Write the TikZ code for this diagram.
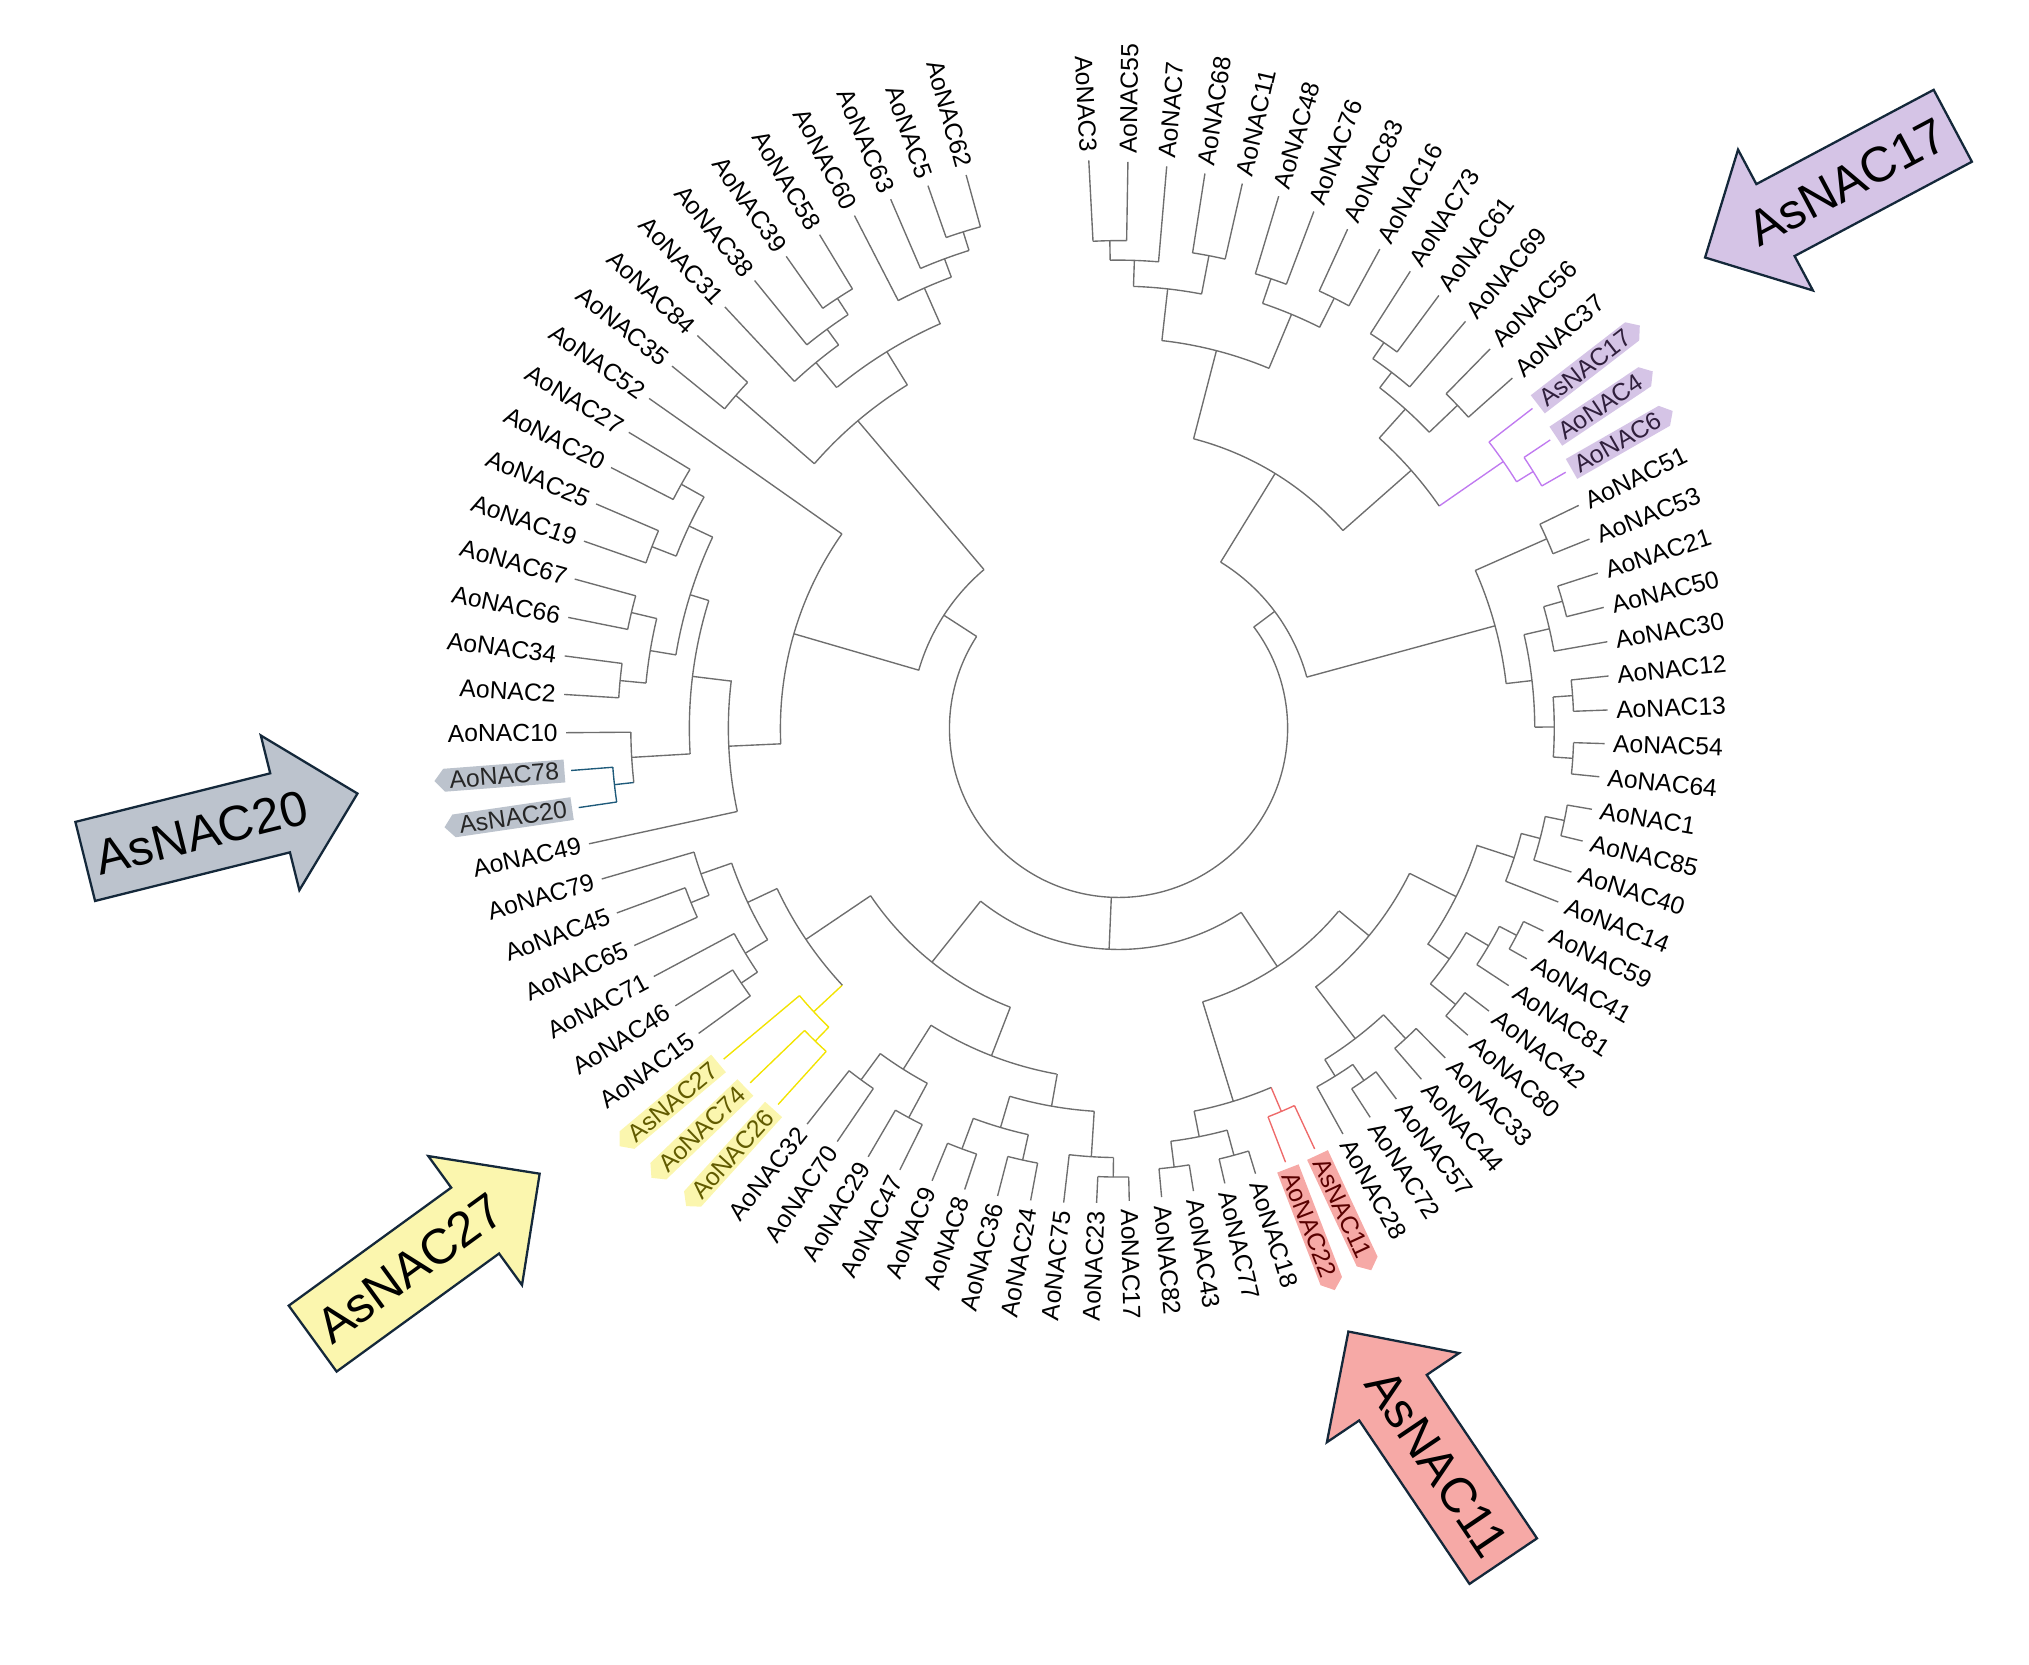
\documentclass[tikz,border=0pt]{standalone}
\usepackage{fontspec}
\setmainfont{Liberation Sans}
\usetikzlibrary{shapes.symbols,shapes.arrows}
\definecolor{tr}{HTML}{6E6E6E}
\definecolor{pP}{HTML}{C07AF0}\definecolor{pF}{HTML}{D5C4E6}
\definecolor{bP}{HTML}{1E5A7A}\definecolor{bF}{HTML}{BCC3CD}
\definecolor{yP}{HTML}{F2E300}\definecolor{yF}{HTML}{FBF6AE}
\definecolor{rP}{HTML}{EE6A6A}\definecolor{rF}{HTML}{F6A9A6}
\definecolor{ed}{HTML}{14283A}
\tikzset{
 declare function={th(\i)=93-(\i-1)*3.95; rt(\t)=400-25*cos(\t)+36*sin(\t);},
 tree/.style={draw=tr,line width=1.5pt},
 lab/.style={font=\fontsize{27}{30}\selectfont,inner sep=2pt},
 hl/.style={shape=signal,signal pointer angle=100,inner sep=3pt,inner xsep=6pt},
 hlP/.style={hl,fill=pF,text=black!75!pP},
 hlB/.style={hl,fill=bF,text=black!85},
 hlY/.style={hl,fill=yF,text=black!60!yP},
 hlR/.style={hl,fill=rF,text=black!65!red},
 big/.style={single arrow,draw=ed,line width=2.5pt,font=\fontsize{54}{60}\selectfont,
   inner ysep=0.85cm,inner xsep=0.4cm,single arrow head extend=1.5cm,single arrow tip angle=90},
}
\newcommand\cl[5][tree]{%
 \pgfmathsetmacro\cTa{th(#2)}\pgfmathsetmacro\cTb{th(#3)}\pgfmathsetmacro\cTm{th((#2+#3)/2)}%
 \draw[#1] (\cTa:#4) arc[start angle=\cTa,end angle=\cTb,radius=#4*0.05cm];%
 \draw[#1] (\cTm:#4) -- (\cTm:#5);}
\newcommand\lf[5][tree]{%
 \pgfmathsetmacro\lT{th(#2)}\pgfmathsetmacro\lR{max(rt(\lT),#3+14)}\pgfmathsetmacro\lL{\lR+5}%
 \draw[#1] (\lT:#3) -- (\lT:\lR);%
 \pgfmathparse{cos(\lT)>=0?1:0}%
 \ifnum\pgfmathresult=1
  \node[lab,#5,anchor=west,rotate=\lT,signal to=east] (L#2) at (\lT:\lL) {#4};%
 \else
  \pgfmathsetmacro\lQ{\lT-180}%
  \node[lab,#5,anchor=east,rotate=\lQ,signal to=west] (L#2) at (\lT:\lL) {#4};%
 \fi}
\begin{document}
\begin{tikzpicture}[x=0.05cm,y=0.05cm]
\useasboundingbox (-860,-720) rectangle (700,560);
% ---- clade A
\lf{1}{375}{AoNAC3}{}\lf{2}{375}{AoNAC55}{}\cl{1}{2}{375}{360}
\lf{3}{360}{AoNAC7}{}\cl{1.5}{3}{360}{340}
\lf{4}{370}{AoNAC68}{}\lf{5}{370}{AoNAC11}{}\cl{4}{5}{370}{340}
\cl{2.25}{4.5}{340}{300}
\lf{6}{365}{AoNAC48}{}\lf{7}{365}{AoNAC76}{}\cl{6}{7}{365}{345}
\lf{8}{370}{AoNAC83}{}\lf{9}{370}{AoNAC16}{}\cl{8}{9}{370}{345}
\cl{6.5}{8.5}{345}{300}
\cl{3.375}{7.5}{300}{230}
\lf{10}{360}{AoNAC73}{}\lf{11}{360}{AoNAC61}{}\cl{10}{11}{360}{345}
\lf{12}{345}{AoNAC69}{}\cl{10.5}{12}{345}{330}
\lf{13}{360}{AoNAC56}{}\lf{14}{360}{AoNAC37}{}\cl{13}{14}{360}{330}
\cl{11.25}{13.5}{330}{300}
\lf[tree,draw=pP]{15}{360}{AsNAC17}{hlP}
\lf[tree,draw=pP]{16}{375}{AoNAC4}{hlP}\lf[tree,draw=pP]{17}{375}{AoNAC6}{hlP}
\cl[tree,draw=pP]{16}{17}{375}{360}
\cl[tree,draw=pP]{15}{16.5}{360}{300}
\cl{12.375}{15.75}{300}{230}
\cl{5.44}{14.06}{230}{150}
% ---- clade B
\lf{18}{360}{AoNAC51}{}\lf{19}{360}{AoNAC53}{}\cl{18}{19}{360}{300}
\lf{20}{355}{AoNAC21}{}\lf{21}{355}{AoNAC50}{}\cl{20}{21}{355}{340}
\lf{22}{340}{AoNAC30}{}\cl{20.5}{22}{340}{320}
\lf{23}{350}{AoNAC12}{}\lf{24}{350}{AoNAC13}{}\cl{23}{24}{350}{335}
\lf{25}{350}{AoNAC54}{}\lf{26}{350}{AoNAC64}{}\cl{25}{26}{350}{335}
\cl{23.5}{25.5}{335}{320}
\cl{21.25}{24.5}{320}{300}
\cl{18.5}{22.875}{300}{150}
\cl{9.75}{20.69}{150}{130}
% ---- clade C
\lf{27}{350}{AoNAC1}{}\lf{28}{350}{AoNAC85}{}\cl{27}{28}{350}{335}
\lf{29}{335}{AoNAC40}{}\cl{27.5}{29}{335}{320}
\lf{30}{320}{AoNAC14}{}\cl{28.25}{30}{320}{290}
\lf{31}{345}{AoNAC59}{}\lf{32}{345}{AoNAC41}{}\cl{31}{32}{345}{330}
\lf{33}{330}{AoNAC81}{}\cl{31.5}{33}{330}{310}
\lf{34}{335}{AoNAC42}{}\lf{35}{335}{AoNAC80}{}\cl{34}{35}{335}{310}
\cl{32.25}{34.5}{310}{290}
\cl{29.1}{33.4}{290}{250}
\lf{36}{325}{AoNAC33}{}\lf{37}{325}{AoNAC44}{}\cl{36}{37}{325}{300}
\lf{38}{330}{AoNAC57}{}\lf{39}{330}{AoNAC72}{}\cl{38}{39}{330}{315}
\lf{40}{315}{AoNAC28}{}\cl{38.5}{40}{315}{300}
\cl{36.5}{39.25}{300}{250}
\cl{31.25}{37.9}{250}{220}
% ---- clade D
\lf[tree,draw=rP]{41}{320}{AsNAC11}{hlR}\lf[tree,draw=rP]{42}{320}{AoNAC22}{hlR}
\cl[tree,draw=rP]{41}{42}{320}{300}
\lf{43}{340}{AoNAC18}{}\lf{44}{340}{AoNAC77}{}\cl{43}{44}{340}{320}
\lf{45}{340}{AoNAC43}{}\lf{46}{340}{AoNAC82}{}\cl{45}{46}{340}{320}
\cl{43.5}{45.5}{320}{300}
\cl{41.5}{44.5}{300}{220}
\cl{34.6}{43}{220}{170}
% ---- clade E
\lf{47}{345}{AoNAC17}{}\lf{48}{345}{AoNAC23}{}\cl{47}{48}{345}{330}
\lf{49}{330}{AoNAC75}{}\cl{47.5}{49}{330}{295}
\lf{50}{340}{AoNAC24}{}\lf{51}{340}{AoNAC36}{}\cl{50}{51}{340}{320}
\lf{52}{345}{AoNAC8}{}\lf{53}{345}{AoNAC9}{}\cl{52}{53}{345}{320}
\cl{50.5}{52.5}{320}{295}
\cl{48.25}{51.5}{295}{270}
\lf{54}{340}{AoNAC47}{}\lf{55}{340}{AoNAC29}{}\cl{54}{55}{340}{310}
\lf{56}{335}{AoNAC70}{}\lf{57}{335}{AoNAC32}{}\cl{56}{57}{335}{310}
\cl{54.5}{56.5}{310}{270}
\cl{49.9}{55.5}{270}{230}
% ---- clade F
\lf[tree,draw=yP]{58}{335}{AoNAC26}{hlY}\lf[tree,draw=yP]{59}{335}{AoNAC74}{hlY}
\cl[tree,draw=yP]{58}{59}{335}{320}
\lf[tree,draw=yP]{60}{320}{AsNAC27}{hlY}
\cl[tree,draw=yP]{58.5}{60}{320}{290}
\lf{61}{350}{AoNAC15}{}\lf{62}{350}{AoNAC46}{}\cl{61}{62}{350}{335}
\lf{63}{335}{AoNAC71}{}\cl{61.5}{63}{335}{315}
\lf{64}{355}{AoNAC65}{}\lf{65}{355}{AoNAC45}{}\cl{64}{65}{355}{340}
\lf{66}{340}{AoNAC79}{}\cl{64.5}{66}{340}{315}
\cl{62.25}{65.25}{315}{290}
\cl{59.25}{63.75}{290}{230}
\cl{52.7}{61.5}{230}{170}
\cl{38.8}{57.1}{170}{130}
% ---- clade G
\lf{67}{300}{AoNAC49}{}
\lf[tree,draw=bP]{68}{390}{AsNAC20}{hlB}\lf[tree,draw=bP]{69}{390}{AoNAC78}{hlB}
\cl[tree,draw=bP]{68}{69}{390}{375}
\lf{70}{375}{AoNAC10}{}\cl{68.5}{70}{375}{330}
\lf{71}{385}{AoNAC2}{}\lf{72}{385}{AoNAC34}{}\cl{71}{72}{385}{365}
\lf{73}{385}{AoNAC66}{}\lf{74}{385}{AoNAC67}{}\cl{73}{74}{385}{365}
\cl{71.5}{73.5}{365}{345}
\lf{75}{385}{AoNAC19}{}\lf{76}{385}{AoNAC25}{}\cl{75}{76}{385}{365}
\lf{77}{385}{AoNAC20}{}\lf{78}{385}{AoNAC27}{}\cl{77}{78}{385}{365}
\cl{75.5}{77.5}{365}{345}
\cl{72.5}{76.5}{345}{330}
\cl{69.25}{74.5}{330}{300}
\cl{67}{71.9}{300}{260}
\lf{79}{260}{AoNAC52}{}
\cl{69.45}{79}{260}{160}
% ---- clade H
\lf{80}{390}{AoNAC35}{}\lf{81}{390}{AoNAC84}{}\cl{80}{81}{390}{310}
\lf{82}{365}{AoNAC31}{}
\lf{83}{380}{AoNAC38}{}
\lf{84}{395}{AoNAC39}{}\lf{85}{395}{AoNAC58}{}\cl{84}{85}{395}{380}
\cl{83}{84.5}{380}{365}
\cl{82}{83.75}{365}{340}
\lf{86}{370}{AoNAC60}{}
\lf{87}{385}{AoNAC63}{}
\lf{88}{400}{AoNAC5}{}\lf{89}{400}{AoNAC62}{}\cl{88}{89}{400}{385}
\cl{87}{88.5}{385}{370}
\cl{86}{87.75}{370}{340}
\cl{82.9}{86.9}{340}{310}
\cl{80.5}{84.9}{310}{160}
\cl{74.2}{82.7}{160}{130}
% root
\cl{15.2}{78.45}{130}{130}
% ---- big arrows
\node[big,fill=pF,rotate=28,shape border rotate=180] (A17) at (560,420) {AsNAC17};
\node[big,fill=bF,rotate=14] (A20) at (-705,-80) {AsNAC20};
\node[big,fill=yF,rotate=36] (A27) at (-545,-415) {AsNAC27};
\node[big,fill=rF,rotate=-56,shape border rotate=180] (A11) at (245,-565) {AsNAC11};
\end{tikzpicture}
\end{document}
